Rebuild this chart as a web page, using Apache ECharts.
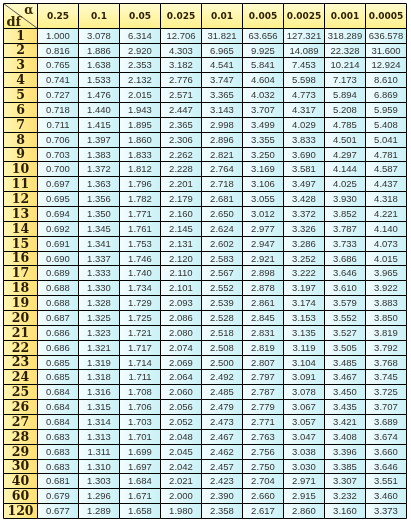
<!DOCTYPE html>
<html><head><meta charset="utf-8">
<script src="https://cdn.jsdelivr.net/npm/echarts@6/dist/echarts.min.js"></script>
<style>html,body{margin:0;padding:0;background:#fff}#c{width:411px;height:525px}</style>
</head><body><div id="c"></div>
<script>
const alphas = ['0.25','0.1','0.05','0.025','0.01','0.005','0.0025','0.001','0.0005'];
const dfs = ['1','2','3','4','5','6','7','8','9','10','11','12','13','14','15','16','17','18','19','20','21','22','23','24','25','26','27','28','29','30','40','60','120'];
const tvals = [
['1.000','3.078','6.314','12.706','31.821','63.656','127.321','318.289','636.578'],
['0.816','1.886','2.920','4.303','6.965','9.925','14.089','22.328','31.600'],
['0.765','1.638','2.353','3.182','4.541','5.841','7.453','10.214','12.924'],
['0.741','1.533','2.132','2.776','3.747','4.604','5.598','7.173','8.610'],
['0.727','1.476','2.015','2.571','3.365','4.032','4.773','5.894','6.869'],
['0.718','1.440','1.943','2.447','3.143','3.707','4.317','5.208','5.959'],
['0.711','1.415','1.895','2.365','2.998','3.499','4.029','4.785','5.408'],
['0.706','1.397','1.860','2.306','2.896','3.355','3.833','4.501','5.041'],
['0.703','1.383','1.833','2.262','2.821','3.250','3.690','4.297','4.781'],
['0.700','1.372','1.812','2.228','2.764','3.169','3.581','4.144','4.587'],
['0.697','1.363','1.796','2.201','2.718','3.106','3.497','4.025','4.437'],
['0.695','1.356','1.782','2.179','2.681','3.055','3.428','3.930','4.318'],
['0.694','1.350','1.771','2.160','2.650','3.012','3.372','3.852','4.221'],
['0.692','1.345','1.761','2.145','2.624','2.977','3.326','3.787','4.140'],
['0.691','1.341','1.753','2.131','2.602','2.947','3.286','3.733','4.073'],
['0.690','1.337','1.746','2.120','2.583','2.921','3.252','3.686','4.015'],
['0.689','1.333','1.740','2.110','2.567','2.898','3.222','3.646','3.965'],
['0.688','1.330','1.734','2.101','2.552','2.878','3.197','3.610','3.922'],
['0.688','1.328','1.729','2.093','2.539','2.861','3.174','3.579','3.883'],
['0.687','1.325','1.725','2.086','2.528','2.845','3.153','3.552','3.850'],
['0.686','1.323','1.721','2.080','2.518','2.831','3.135','3.527','3.819'],
['0.686','1.321','1.717','2.074','2.508','2.819','3.119','3.505','3.792'],
['0.685','1.319','1.714','2.069','2.500','2.807','3.104','3.485','3.768'],
['0.685','1.318','1.711','2.064','2.492','2.797','3.091','3.467','3.745'],
['0.684','1.316','1.708','2.060','2.485','2.787','3.078','3.450','3.725'],
['0.684','1.315','1.706','2.056','2.479','2.779','3.067','3.435','3.707'],
['0.684','1.314','1.703','2.052','2.473','2.771','3.057','3.421','3.689'],
['0.683','1.313','1.701','2.048','2.467','2.763','3.047','3.408','3.674'],
['0.683','1.311','1.699','2.045','2.462','2.756','3.038','3.396','3.660'],
['0.683','1.310','1.697','2.042','2.457','2.750','3.030','3.385','3.646'],
['0.681','1.303','1.684','2.021','2.423','2.704','2.971','3.307','3.551'],
['0.679','1.296','1.671','2.000','2.390','2.660','2.915','3.232','3.460'],
['0.677','1.289','1.658','1.980','2.358','2.617','2.860','3.160','3.373']
];
const DFW = 0.83, HDH = 1.66;
const cells = [];
cells.push([-1, -1, '', 'corner']);
alphas.forEach((a,i)=>cells.push([i,-1,a,'head']));
dfs.forEach((d,r)=>{
  cells.push([-1,r,d,'df']);
  tvals[r].forEach((v,i)=>cells.push([i,r,v,'val']));
});
function renderItem(params, api){
  const c = api.value(0), r = api.value(1), type = cells[params.dataIndex][3], txt = cells[params.dataIndex][2];
  const x0 = c<0 ? -DFW : c, x1 = c<0 ? 0 : c+1;
  const y0 = r<0 ? -HDH : r, y1 = r<0 ? 0 : r+1;
  const p0 = api.coord([x0,y0]), p1 = api.coord([x1,y1]);
  const x=Math.round(p0[0])+0.5, y=Math.round(p0[1])+0.5, w=Math.round(p1[0])-Math.round(p0[0]), h=Math.round(p1[1])-Math.round(p0[1]);
  let fill;
  if(type==='val') fill = new echarts.graphic.LinearGradient(0,0,1,0,[{offset:0,color:'#f4fdff'},{offset:1,color:'#c8f1f6'}]);
  else if(type==='head'||type==='corner') fill = new echarts.graphic.LinearGradient(0,0,0,1,[{offset:0,color:'#fffbd0'},{offset:1,color:'#fff08a'}]);
  else fill = new echarts.graphic.LinearGradient(0,0,1,0,[{offset:0,color:'#fff6b5'},{offset:1,color:'#ffe070'}]);
  const children = [{type:'rect',shape:{x,y,width:w,height:h},style:{fill,stroke:'#000',lineWidth:1}}];
  if(type==='corner'){
    children.push({type:'line',shape:{x1:x,y1:y,x2:x+w,y2:y+h},style:{stroke:'#555',lineWidth:1}});
    children.push({type:'text',style:{text:'α',x:x+w-4,y:y+1,align:'right',verticalAlign:'top',font:'bold 12px "DejaVu Serif"',fill:'#3a2a00'}});
    children.push({type:'text',style:{text:'df',x:x+3,y:y+h+1,align:'left',verticalAlign:'bottom',font:'bold 13px "DejaVu Serif"',fill:'#3a2a00'}});
  } else {
    const font = type==='val' ? '9.5px "Liberation Sans"' : type==='head' ? 'bold 9px "DejaVu Sans"' : 'bold 12.5px "DejaVu Serif"';
    children.push({type:'text',style:{text:txt,x:x+w/2,y:y+h/2+0.5,align:'center',verticalAlign:'middle',font,fill:type==='val'?'#333':'#2a1e00'}});
  }
  return {type:'group',children};
}
const chart = echarts.init(document.getElementById('c'));
chart.setOption({
  animation:false,
  grid:{left:3,right:5,top:3,bottom:7},
  xAxis:{type:'value',min:-DFW,max:9,show:false},
  yAxis:{type:'value',min:-HDH,max:dfs.length,inverse:true,show:false},
  series:[{type:'custom',renderItem,data:cells.map(c=>[c[0],c[1]]),clip:false}]
});
</script></body></html>
